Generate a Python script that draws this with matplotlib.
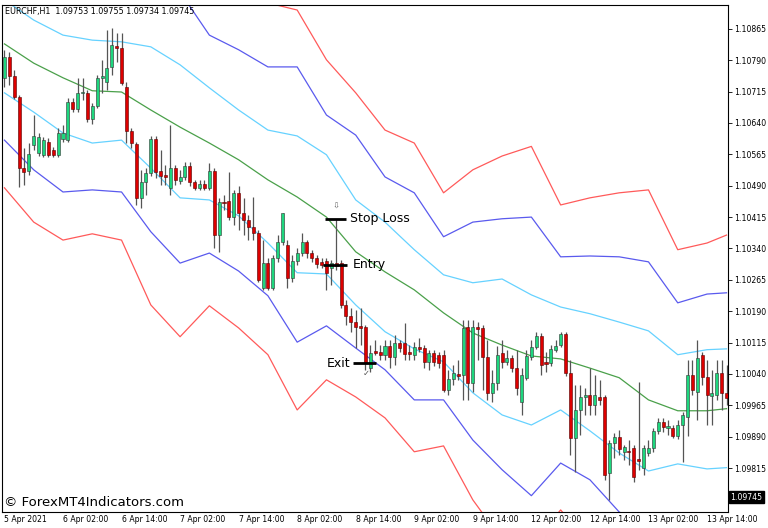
import matplotlib
matplotlib.use("Agg")
import matplotlib.pyplot as plt
import numpy as np

opens = [1.10748,1.10798,1.10752,1.10702,1.10532,1.10525,1.10587,1.10568,1.10564,1.10595,1.10576,1.10564,1.10602,1.10599,1.10690,1.10673,1.10712,1.10712,1.10650,1.10681,
1.10748,1.10738,1.10774,1.10824,1.10819,1.10726,1.10621,1.10590,1.10461,1.10499,1.10521,1.10602,1.10525,1.10516,1.10485,1.10532,1.10501,1.10511,1.10537,1.10499,
1.10485,1.10494,1.10485,1.10525,1.10372,1.10451,1.10454,1.10415,1.10473,1.10425,1.10408,1.10391,1.10377,1.10246,1.10305,1.10246,1.10317,1.10356,1.10349,1.10270,
1.10310,1.10329,1.10356,1.10329,1.10317,1.10308,1.10310,1.10293,1.10305,1.10305,1.10205,1.10179,1.10164,1.10155,1.10153,1.10054,1.10095,1.10093,1.10086,1.10107,
1.10081,1.10114,1.10114,1.10093,1.10086,1.10105,1.10102,1.10069,1.10090,1.10086,1.10086,1.10002,1.10028,1.10040,1.10038,1.10153,1.10019,1.10153,1.10150,1.10081,
1.09995,1.10019,1.10090,1.10069,1.10078,1.10054,1.09973,1.10031,1.10081,1.10105,1.10131,1.10069,1.10066,1.10098,1.10109,1.10136,1.10043,1.09887,1.09954,1.09985,
1.09990,1.09966,1.09985,1.09985,1.09804,1.09875,1.09890,1.09854,1.09856,1.09863,1.09837,1.09816,1.09851,1.09863,1.09904,1.09925,1.09911,1.09911,1.09892,1.09918,
1.09937,1.10038,1.09997,1.10086,1.10033,1.09988,1.09990,1.10043,1.09995]
closes = [1.10798,1.10752,1.10702,1.10532,1.10523,1.10566,1.10609,1.10607,1.10599,1.10564,1.10564,1.10616,1.10616,1.10690,1.10673,1.10712,1.10714,1.10650,1.10681,1.10748,
1.10752,1.10771,1.10826,1.10819,1.10736,1.10621,1.10592,1.10461,1.10499,1.10521,1.10602,1.10523,1.10513,1.10511,1.10532,1.10504,1.10511,1.10537,1.10499,1.10485,
1.10494,1.10485,1.10525,1.10372,1.10451,1.10449,1.10415,1.10473,1.10425,1.10408,1.10391,1.10377,1.10265,1.10305,1.10246,1.10317,1.10356,1.10425,1.10270,1.10310,
1.10329,1.10356,1.10329,1.10317,1.10303,1.10301,1.10282,1.10305,1.10298,1.10205,1.10179,1.10164,1.10153,1.10150,1.10066,1.10090,1.10090,1.10086,1.10107,1.10081,
1.10114,1.10102,1.10088,1.10088,1.10105,1.10100,1.10069,1.10090,1.10069,1.10066,1.10002,1.10028,1.10043,1.10035,1.10150,1.10019,1.10153,1.10148,1.10081,1.09995,
1.10019,1.10086,1.10069,1.10078,1.10054,1.10007,1.10038,1.10083,1.10105,1.10131,1.10062,1.10064,1.10100,1.10107,1.10136,1.10043,1.09887,1.09954,1.09985,1.09990,
1.09966,1.09990,1.09978,1.09799,1.09875,1.09890,1.09861,1.09866,1.09854,1.09794,1.09832,1.09863,1.09863,1.09904,1.09925,1.09913,1.09916,1.09892,1.09918,1.09942,
1.10038,1.10002,1.10078,1.10033,1.09990,1.09995,1.10043,1.09995,1.09983]
highs = [1.10814,1.10810,1.10767,1.10707,1.10580,1.10592,1.10659,1.10616,1.10607,1.10604,1.10583,1.10628,1.10635,1.10700,1.10700,1.10748,1.10748,1.10719,1.10688,1.10755,
1.10791,1.10862,1.10867,1.10855,1.10855,1.10738,1.10628,1.10595,1.10528,1.10532,1.10609,1.10609,1.10576,1.10540,1.10635,1.10540,1.10528,1.10547,1.10547,1.10504,
1.10504,1.10504,1.10544,1.10532,1.10461,1.10468,1.10523,1.10480,1.10489,1.10461,1.10420,1.10463,1.10384,1.10360,1.10317,1.10325,1.10372,1.10425,1.10360,1.10325,
1.10341,1.10377,1.10360,1.10336,1.10325,1.10317,1.10317,1.10313,1.10408,1.10313,1.10217,1.10198,1.10193,1.10198,1.10157,1.10109,1.10121,1.10109,1.10121,1.10121,
1.10133,1.10121,1.10162,1.10109,1.10117,1.10126,1.10109,1.10098,1.10098,1.10093,1.10098,1.10050,1.10062,1.10074,1.10169,1.10169,1.10169,1.10164,1.10157,1.10121,
1.10050,1.10107,1.10121,1.10098,1.10086,1.10098,1.10054,1.10098,1.10121,1.10141,1.10138,1.10093,1.10109,1.10121,1.10141,1.10141,1.10074,1.10014,1.10014,1.10007,
1.10054,1.10038,1.10026,1.09990,1.09882,1.09899,1.09906,1.09871,1.09882,1.09871,1.10021,1.09871,1.09882,1.09911,1.09935,1.09935,1.09930,1.09918,1.09930,1.09949,
1.10074,1.10074,1.10121,1.10093,1.10074,1.10050,1.10074,1.10074,1.10062]
lows = [1.10726,1.10731,1.10697,1.10487,1.10492,1.10516,1.10576,1.10561,1.10559,1.10559,1.10559,1.10559,1.10595,1.10595,1.10666,1.10666,1.10695,1.10642,1.10638,1.10676,
1.10712,1.10719,1.10755,1.10786,1.10731,1.10592,1.10580,1.10444,1.10437,1.10468,1.10513,1.10509,1.10492,1.10492,1.10468,1.10492,1.10494,1.10504,1.10489,1.10480,
1.10480,1.10480,1.10480,1.10341,1.10332,1.10432,1.10408,1.10396,1.10384,1.10372,1.10360,1.10360,1.10260,1.10241,1.10241,1.10241,1.10308,1.10349,1.10246,1.10260,
1.10301,1.10322,1.10317,1.10308,1.10293,1.10293,1.10241,1.10253,1.10289,1.10198,1.10157,1.10141,1.10102,1.10110,1.10050,1.10045,1.10086,1.10074,1.10074,1.10054,
1.10062,1.10093,1.10074,1.10074,1.10074,1.10093,1.10054,1.10050,1.10059,1.10054,1.09997,1.09990,1.10014,1.10026,1.09978,1.09978,1.09997,1.10074,1.10002,1.09978,
1.09973,1.10002,1.10054,1.10062,1.10045,1.09990,1.09942,1.10026,1.10074,1.10100,1.10038,1.10045,1.10059,1.10093,1.10105,1.10035,1.09847,1.09806,1.09894,1.09942,
1.09942,1.09942,1.09966,1.09787,1.09739,1.09839,1.09847,1.09835,1.09823,1.09782,1.09811,1.09799,1.09844,1.09854,1.09897,1.09902,1.09894,1.09887,1.09885,1.09830,
1.09892,1.09990,1.09930,1.10014,1.09918,1.09918,1.09978,1.09954,1.09966]

band_idx = [0,6,12,18,24,30,36,42,48,54,60,66,72,78,84,90,96,102,108,114,120,126,132,138,144,148]
ma_mid = [1.10829,1.10783,1.10748,1.10717,1.10714,1.10671,1.10630,1.10592,1.10552,1.10504,1.10463,1.10415,1.10332,1.10284,1.10241,1.10186,1.10138,1.10109,1.10083,1.10076,1.10054,1.10031,1.09978,1.09952,1.09952,1.09957]
cyan_up = [1.10934,1.10886,1.10850,1.10838,1.10834,1.10822,1.10779,1.10724,1.10671,1.10623,1.10609,1.10564,1.10456,1.10403,1.10337,1.10277,1.10258,1.10267,1.10229,1.10200,1.10184,1.10164,1.10143,1.10086,1.10098,1.10100]
cyan_dn = [1.10712,1.10666,1.10616,1.10592,1.10599,1.10532,1.10461,1.10456,1.10418,1.10353,1.10282,1.10279,1.10205,1.10141,1.10100,1.10069,1.09995,1.09942,1.09918,1.09954,1.09904,1.09851,1.09808,1.09825,1.09813,1.09816]
blue_up = [1.11030,1.11018,1.10994,1.10953,1.10948,1.10963,1.10953,1.10850,1.10815,1.10774,1.10774,1.10659,1.10611,1.10511,1.10473,1.10368,1.10403,1.10411,1.10415,1.10320,1.10322,1.10320,1.10308,1.10210,1.10231,1.10234]
blue_dn = [1.10599,1.10528,1.10475,1.10480,1.10475,1.10380,1.10305,1.10329,1.10286,1.10227,1.10116,1.10155,1.10102,1.10050,1.09978,1.09978,1.09882,1.09811,1.09749,1.09827,1.09787,1.09710,1.09672,1.09643,1.09631,1.09631]
red_up = [1.11173,1.11161,1.11137,1.11113,1.11089,1.11065,1.11042,1.11006,1.10963,1.10927,1.10910,1.10791,1.10712,1.10623,1.10592,1.10473,1.10528,1.10561,1.10584,1.10444,1.10461,1.10473,1.10480,1.10337,1.10353,1.10372]
red_dn = [1.10485,1.10403,1.10360,1.10375,1.10360,1.10205,1.10129,1.10203,1.10150,1.10086,1.09954,1.10026,1.09985,1.09935,1.09854,1.09868,1.09739,1.09643,1.09631,1.09715,1.09631,1.09596,1.09572,1.09548,1.09536,1.09536]

tick_labels = ["5 Apr 2021","6 Apr 02:00","6 Apr 14:00","7 Apr 02:00","7 Apr 14:00","8 Apr 02:00",
               "8 Apr 14:00","9 Apr 02:00","9 Apr 14:00","12 Apr 02:00","12 Apr 14:00","13 Apr 02:00","13 Apr 14:00"]
y_ticks = [1.10865,1.10790,1.10715,1.10640,1.10565,1.10490,1.10415,1.10340,1.10265,1.10190,1.10115,1.10040,1.09965,1.09890,1.09815]
stop_loss = 1.10411
entry = 1.10301
exit_p = 1.10066
trade_bar = 68
exit_bar = 75
last_price = 1.09745

fig = plt.figure(figsize=(7.68, 5.28), dpi=100)
ax = fig.add_axes([2/768, 16/528, 726/768, 507/528])

for xs, ys, col in [(band_idx, red_up, '#ff5a5a'), (band_idx, red_dn, '#ff5a5a'),
                    (band_idx, blue_up, '#5a5aee'), (band_idx, blue_dn, '#5a5aee'),
                    (band_idx, cyan_up, '#66d2ff'), (band_idx, cyan_dn, '#66d2ff'),
                    (band_idx, ma_mid, '#4aa04a')]:
    ax.plot(xs, ys, color=col, lw=0.9, zorder=1)

o = np.array(opens); c = np.array(closes); h = np.array(highs); l = np.array(lows)
x = np.arange(len(o))
ax.vlines(x, l, h, color='#555555', lw=0.9, zorder=2)
up = c >= o
bottom = np.minimum(o, c)
height = np.maximum(np.abs(c - o), 0.000012)
ax.bar(x[up], height[up], bottom=bottom[up], width=0.62, color='#1ed67e', edgecolor='#333333', lw=0.4, zorder=3)
ax.bar(x[~up], height[~up], bottom=bottom[~up], width=0.62, color='#dd0000', edgecolor='#550000', lw=0.4, zorder=3)

ax.hlines(stop_loss, trade_bar - 2.2, trade_bar + 2.0, color='black', lw=2, zorder=4)
ax.text(trade_bar + 2.8, stop_loss, "Stop Loss", fontsize=9, va='center', ha='left')
ax.text(trade_bar, stop_loss + 0.0003, "⇩", fontsize=6, ha='center', va='center', color='#666666')
ax.hlines(entry, trade_bar - 2.8, trade_bar + 2.2, color='black', lw=2, zorder=4)
ax.text(trade_bar + 3.4, entry, "Entry", fontsize=9, va='center', ha='left')
ax.hlines(exit_p, exit_bar - 3.5, exit_bar + 1.2, color='black', lw=2, zorder=4)
ax.text(exit_bar - 4.2, exit_p, "Exit", fontsize=9, va='center', ha='right')
ax.text(exit_bar - 0.8, exit_p - 0.00025, "✓", fontsize=6, ha='center', va='center', color='#555555')

ax.set_xlim(-0.5, 148.3)
ax.set_ylim(1.09710, 1.10922)
ax.yaxis.tick_right()
ax.set_yticks(y_ticks)
ax.set_yticklabels([f"{v:.5f}" for v in y_ticks], fontsize=5.6)
ax.set_xticks(np.arange(len(tick_labels)) * 12)
ax.set_xticklabels(tick_labels, fontsize=5.6, ha='left')
ax.tick_params(axis='y', length=3, width=0.6, pad=1.5, colors='black')
ax.tick_params(axis='x', length=0, pad=2)
for s in ax.spines.values():
    s.set_linewidth(0.8)

ax.text(0.004, 0.996, "EURCHF,H1  1.09753 1.09755 1.09734 1.09745", transform=ax.transAxes,
        fontsize=5.8, va='top', ha='left')
ax.text(0.003, 0.006, "© ForexMT4Indicators.com", transform=ax.transAxes, fontsize=9.5,
        va='bottom', ha='left')
ax.text(1.003, last_price, f"{last_price:.5f}", transform=ax.get_yaxis_transform(),
        fontsize=5.6, va='center', ha='left', color='white',
        bbox=dict(boxstyle='square,pad=0.2', fc='black', ec='black'))

fig.savefig("out.png", dpi=100)
